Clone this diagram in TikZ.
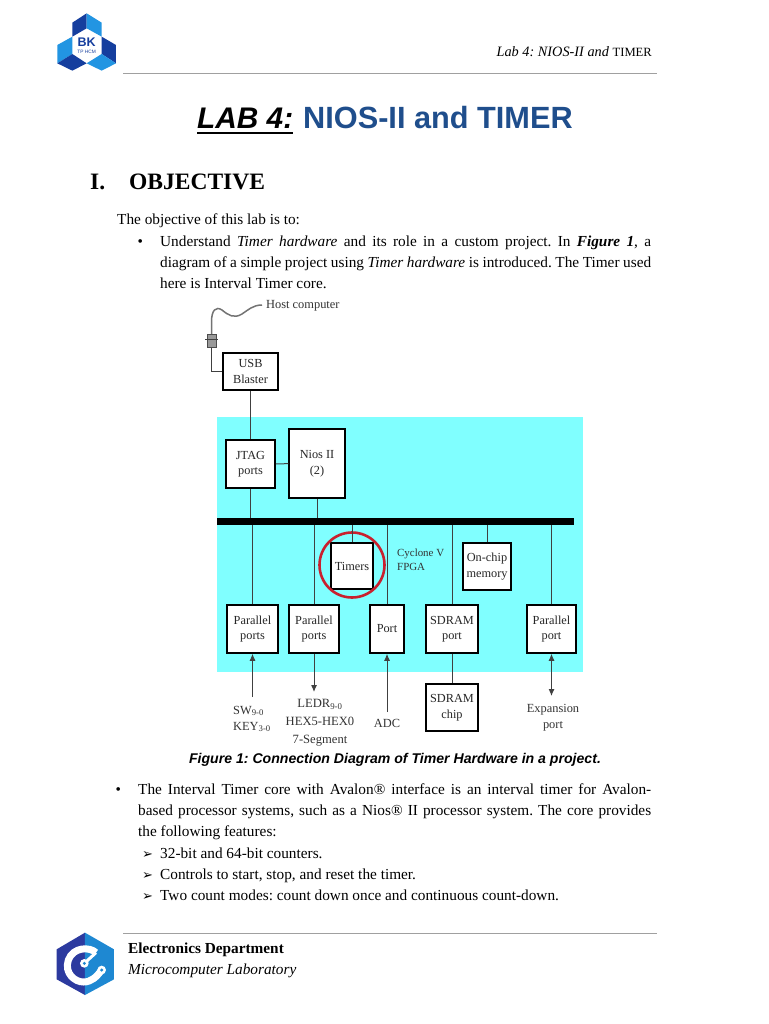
\documentclass[tikz,border=0pt]{standalone}
\usepackage{fontspec}
\setmainfont{Liberation Serif}
\setsansfont{Liberation Sans}
\newfontfamily\symfont{DejaVu Sans}
\usetikzlibrary{arrows.meta}
\definecolor{fpgacyan}{HTML}{80FFFF}
\definecolor{titleblue}{HTML}{1F4E8C}
\definecolor{ruleGray}{HTML}{A0A0A0}
\definecolor{ringred}{HTML}{C9202E}
\definecolor{bkdark}{HTML}{153E9E}
\definecolor{bklight}{HTML}{2295E2}
\definecolor{edark}{HTML}{2C3A9F}
\definecolor{elight}{HTML}{1E88D2}
\newcommand{\fullline}[1]{\hbox to 491pt{#1}}
\newcommand{\wideline}[1]{\hbox to 513pt{#1}}
\frenchspacing
\begin{document}
\begin{tikzpicture}[x=1pt,y=-1pt]
        \tikzstyle{bodyline}=[anchor=base west, inner sep=0pt, font=\fontsize{15.3}{18}\selectfont];
        \tikzstyle{hwbox}=[draw, line width=1.5pt, fill=white, inner sep=0pt, align=center, text=black!85, font=\fontsize{12.3}{15.5}\selectfont];
        \tikzstyle{figlabel}=[inner sep=0pt, align=center, text=black!80, font=\fontsize{12.4}{16}\selectfont];
        \tikzstyle{wire}=[line width=1pt, black!75];
        \tikzstyle{sig}=[line width=1pt, black!75, >={Latex[length=7pt,width=6pt]}];
        \useasboundingbox (0,0) rectangle (768,1024);
        \fill[white] (0,0) rectangle (768,1024);
        % header
        \begin{scope}[shift={(40,0)},x=0.3333pt,y=-0.3333pt]
            \fill[bkdark] (140,40) -- (97,68) -- (97,110) -- (140,85) -- cycle;
            \fill[bklight] (140,40) -- (185,68) -- (185,110) -- (140,85) -- cycle;
            \fill[bklight] (52,135) -- (97,110) -- (97,162) -- (52,190) -- cycle;
            \fill[bkdark] (52,190) -- (97,162) -- (140,190) -- (97,212) -- cycle;
            \fill[bkdark] (185,110) -- (228,135) -- (228,190) -- (185,162) -- cycle;
            \fill[bklight] (185,162) -- (228,190) -- (185,212) -- (140,190) -- cycle;
            \node (bktext) at (140,128) [inner sep=0pt, text=bkdark, font=\sffamily\bfseries\fontsize{12.5}{13}\selectfont] {BK};
            \node (bksub) at (140,157) [inner sep=0pt, text=bkdark, font=\sffamily\fontsize{4.8}{5}\selectfont] {TP HCM};
        \end{scope}
        \node (headtext) at (652,57) [anchor=base east, inner sep=0pt, font=\fontsize{14.3}{16}\selectfont] {\textit{Lab 4: NIOS-II and} {\fontsize{12.6}{16}\selectfont TIMER}};
        \draw[ruleGray, line width=1pt] (123,74) -- (657,74);
        \node (labtitle) at (197,129) [anchor=base west, inner sep=0pt, font=\sffamily\bfseries\itshape\fontsize{29.8}{34}\selectfont] {LAB 4:};
        \node (niostitle) at (303,129) [anchor=base west, inner sep=0pt, text=titleblue, font=\sffamily\bfseries\fontsize{30.7}{34}\selectfont] {NIOS-II and TIMER};
        \draw[line width=2.6pt] ([yshift=-4pt]labtitle.base west) -- ([yshift=-4pt]labtitle.base east);
        \node (objective) at (90,190) [anchor=base west, inner sep=0pt, font=\bfseries\fontsize{23.5}{26}\selectfont] {\hbox to 39pt{I.\hfil}OBJECTIVE};
        % text above the figure
        \node (intro) at (117,225) [bodyline] {The objective of this lab is to:};
        \node (dota) at (137.5,246) [bodyline] {•};
        \node (linea) at (160,246) [bodyline] {\fullline{Understand \textit{Timer hardware} and its role in a custom project. In \textbf{\textit{Figure 1}}, a}};
        \node (lineb) at (160,267) [bodyline] {\fullline{diagram of a simple project using \textit{Timer hardware} is introduced. The Timer used}};
        \node (linec) at (160,288) [bodyline] {here is Interval Timer core.};
        % figure
        \fill[fpgacyan] (217,417) rectangle (583,672);
        \node (bus) at (395.5,521.5) [fill=black, minimum width=357pt, minimum height=7pt, inner sep=0pt] {};
        \node (usb) at (250.5,371.5) [hwbox, minimum width=55pt, minimum height=37pt] {USB\\Blaster};
        \node (jtag) at (250.5,464) [hwbox, minimum width=49pt, minimum height=48pt] {JTAG\\ports};
        \node (nios) at (317,463.5) [hwbox, minimum width=56pt, minimum height=69pt] {Nios II\\(2)};
        \node (timers) at (352,566) [hwbox, minimum width=42pt, minimum height=46pt] {Timers};
        \node (onchip) at (487,566.5) [hwbox, minimum width=48pt, minimum height=47pt] {On-chip\\memory};
        \node (parone) at (252.5,629) [hwbox, minimum width=51pt, minimum height=48pt] {Parallel\\ports};
        \node (partwo) at (314,629) [hwbox, minimum width=50pt, minimum height=48pt] {Parallel\\ports};
        \node (port) at (387,629) [hwbox, minimum width=34pt, minimum height=48pt] {Port};
        \node (sdport) at (452,629) [hwbox, minimum width=52pt, minimum height=48pt] {SDRAM\\port};
        \node (parexp) at (551.5,629) [hwbox, minimum width=49pt, minimum height=48pt] {Parallel\\port};
        \node (sdchip) at (452,707.5) [hwbox, minimum width=52pt, minimum height=47pt] {SDRAM\\chip};
        \node (ring) at (352,565) [draw=ringred, line width=2.6pt, circle, minimum size=65pt, inner sep=0pt] {};
        \draw[wire] (usb) -- (jtag);
        \draw[wire] (jtag) -- (nios);
        \draw[wire] (jtag.south) -- (jtag.south |- bus.north);
        \draw[wire] (nios.south) -- (nios.south |- bus.north);
        \draw[wire] (timers.north) -- (timers.north |- bus.south);
        \draw[wire] (onchip.north) -- (onchip.north |- bus.south);
        \draw[wire] (parone.north) -- (parone.north |- bus.south);
        \draw[wire] (partwo.north) -- (partwo.north |- bus.south);
        \draw[wire] (port.north) -- (port.north |- bus.south);
        \draw[wire] (sdport.north) -- (sdport.north |- bus.south);
        \draw[wire] (parexp.north) -- (parexp.north |- bus.south);
        \draw[wire] (sdport) -- (sdchip);
        \coordinate (swend) at (252.5,697);
        \coordinate (ledrend) at (314,692);
        \coordinate (adcend) at (387,712);
        \coordinate (expend) at (551.5,696);
        \draw[sig,->] (swend) -- (parone.south);
        \draw[sig,->] (partwo.south) -- (ledrend);
        \draw[sig,->] (adcend) -- (port.south);
        \draw[sig,<->] (parexp.south) -- (expend);
        % cable to the host
        \node (plug) at (211.5,341) [draw=black!70, fill=black!40, line width=0.7pt, minimum width=9pt, minimum height=13pt, inner sep=0pt] {};
        \draw[wire] (usb.west) -- (211.5,371.5) -- (plug.south);
        \draw[black!55, line width=1.5pt] (plug.north) -- (211.5,322) .. controls (211.5,310) and (216,306) .. (222,310) .. controls (228,315) and (234,319) .. (242,314) .. controls (248,310) and (253,305) .. (262,305);
        \draw[wire] (205,339) -- (218,339);
        \node (host) at (266,305.5) [figlabel, anchor=west] {Host computer};
        \node (fpga) at (397,560) [figlabel, anchor=west, align=left, font=\fontsize{10.9}{14}\selectfont] {Cyclone V\\FPGA};
        \node (swlabel) at (233,719) [figlabel, anchor=west, align=left] {SW\textsubscript{9-0}\\KEY\textsubscript{3-0}};
        \node (ledrlabel) at (320,723) [figlabel, font=\fontsize{12.6}{18}\selectfont] {LEDR\textsubscript{9-0}\\HEX5-HEX0\\7-Segment};
        \node (adclabel) at (387,723) [figlabel] {ADC};
        \node (explabel) at (553,718) [figlabel] {Expansion\\port};
        \node (caption) at (395,763) [anchor=base, inner sep=0pt, font=\sffamily\bfseries\itshape\fontsize{14.1}{16}\selectfont] {Figure 1: Connection Diagram of Timer Hardware in a project.};
        % text below the figure
        \node (dotb) at (115.5,794) [bodyline] {•};
        \node (lined) at (138,794) [bodyline] {\wideline{The Interval Timer core with Avalon® interface is an interval timer for Avalon-}};
        \node (linee) at (138,815) [bodyline] {\wideline{based processor systems, such as a Nios® II processor system. The core provides}};
        \node (linef) at (138,836) [bodyline] {the following features:};
        \node (arra) at (142,858) [bodyline] {\symfont\fontsize{13}{13}\selectfont ➢};
        \node (lineg) at (160,858) [bodyline] {32-bit and 64-bit counters.};
        \node (arrb) at (142,879) [bodyline] {\symfont\fontsize{13}{13}\selectfont ➢};
        \node (lineh) at (160,879) [bodyline] {Controls to start, stop, and reset the timer.};
        \node (arrc) at (142,900) [bodyline] {\symfont\fontsize{13}{13}\selectfont ➢};
        \node (linei) at (160,900) [bodyline] {Two count modes: count down once and continuous count-down.};
        % footer
        \draw[ruleGray, line width=1pt] (123,933) -- (657,933);
        \begin{scope}[shift={(40,920)},x=0.3333pt,y=-0.3333pt]
            \fill[edark] (135,38) -- (50,88) -- (50,178) -- (135,225) -- cycle;
            \fill[elight] (135,38) -- (222,88) -- (222,178) -- (135,225) -- cycle;
            \draw[white, line width=7pt] (168,98) .. controls (150,80) and (100,80) .. (85,120) .. controls (72,160) and (105,186) .. (130,186) .. controls (155,186) and (170,170) .. (185,150);
            \draw[white, line width=3pt] (168,98) -- (133,130);
            \fill[white] (133,130) circle[radius=13];
            \fill[white] (185,150) circle[radius=13];
            \fill[elight] (133,130) circle[radius=5];
            \fill[elight] (185,150) circle[radius=5];
        \end{scope}
        \node (dept) at (128,953) [anchor=base west, inner sep=0pt, font=\bfseries\fontsize{15.3}{18}\selectfont] {Electronics Department};
        \node (lab) at (128,974) [anchor=base west, inner sep=0pt, font=\itshape\fontsize{15.3}{18}\selectfont] {Microcomputer Laboratory};
    \end{tikzpicture}
\end{document}
